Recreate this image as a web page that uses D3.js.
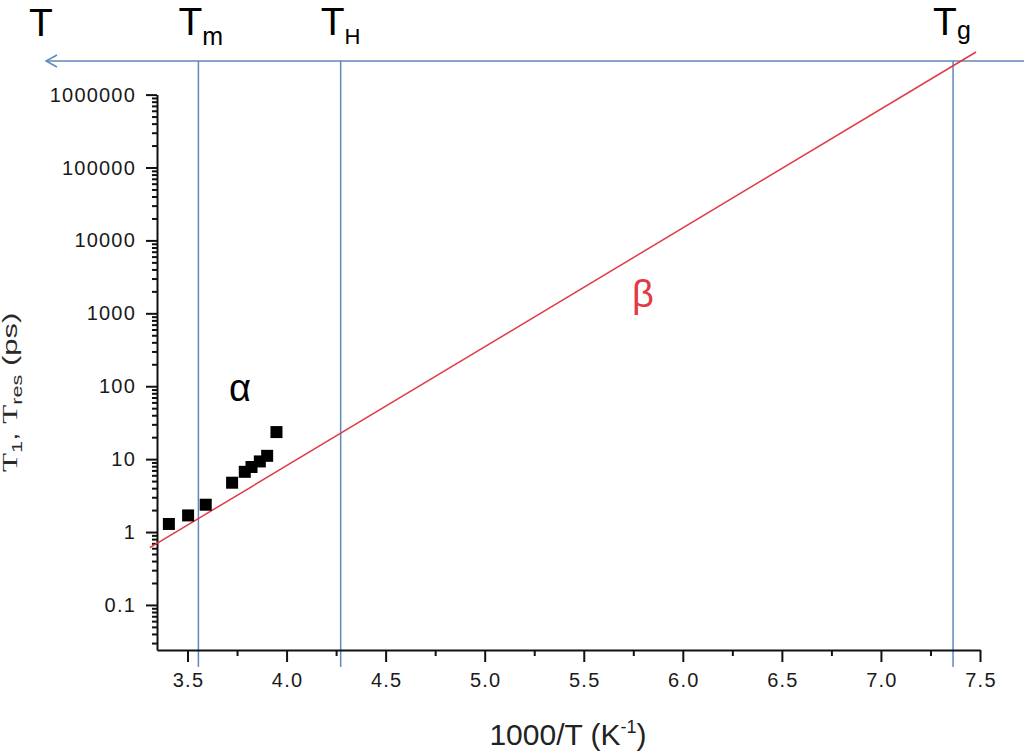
<!DOCTYPE html>
<html>
<head>
<meta charset="utf-8">
<script src="https://d3js.org/d3.v7.min.js"></script>
<style>
  body { margin: 0; background: #fff; }
  svg { display: block; }
  .lbl { font-family: "Liberation Sans", Arial, sans-serif; font-size: 20px; fill: #1a1a1a; }
</style>
</head>
<body>
<div id="chart"></div>
<script>
// measured points (1000/T, time in ps)
var alphaX = [3.406, 3.503, 3.592, 3.725, 3.789, 3.823, 3.865, 3.902, 3.949];
var alphaY = [1.29, 1.69, 2.37, 4.75, 6.7, 7.8, 9.3, 11.1, 23.5];

// beta line, its two ends
var betaX = [3.31, 7.48];
var betaY = [0.61, 3.84e6];

// characteristic temperatures on the 1000/T axis
var markNames = ["m", "H", "g"];
var markX = [3.555, 4.273, 7.364];

var xTickValues = [3.5, 4.0, 4.5, 5.0, 5.5, 6.0, 6.5, 7.0, 7.5];
var xTickLabels = ["3.5", "4.0", "4.5", "5.0", "5.5", "6.0", "6.5", "7.0", "7.5"];
var xMinorValues = [3.75, 4.25, 4.75, 5.25, 5.75, 6.25, 6.75, 7.25];
var yTickValues = [0.1, 1, 10, 100, 1000, 10000, 100000, 1000000];
var yTickLabels = ["0.1", "1", "10", "100", "1000", "10000", "100000", "1000000"];

var width = 1024, height = 751;
var plotLeft = 157, plotRight = 980, plotTop = 94.6, plotBottom = 650;
var lineBlue = "#6089bb", red = "#e23a45";
var sans = "'Liberation Sans', Arial, sans-serif";

var svg = d3.select("#chart").append("svg")
    .attr("width", width)
    .attr("height", height);

var x = d3.scaleLinear()
    .domain([3.346, 7.5])
    .range([plotLeft, plotRight]);
var y = d3.scaleLog()
    .domain([0.0241, 1e6])
    .range([plotBottom, plotTop]);

// log minor ticks 2..9 in each decade
var yMinor = [];
for (var e = -2; e < 6; e++) {
    for (var m = 2; m < 10; m++) {
        var v = m * Math.pow(10, e);
        if (v >= 0.0241 && v <= 1e6) yMinor.push(v);
    }
}

// T axis with arrow on top
var arrowY = 61;
svg.append("line")
    .attr("x1", 46).attr("x2", width)
    .attr("y1", arrowY).attr("y2", arrowY)
    .attr("stroke", lineBlue).attr("stroke-width", 1.5);
svg.append("path")
    .attr("d", "M57,55 L46,61 L57,67")
    .attr("fill", "none")
    .attr("stroke", lineBlue).attr("stroke-width", 1.5);

svg.append("text")
    .attr("x", 29).attr("y", 36)
    .attr("font-family", sans).attr("font-size", 39)
    .text("T");

svg.selectAll(".mark")
    .data(markX)
    .enter()
    .append("line")
    .attr("class", "mark")
    .attr("x1", function (d) { return x(d); })
    .attr("x2", function (d) { return x(d); })
    .attr("y1", arrowY)
    .attr("y2", 667)
    .attr("stroke", lineBlue).attr("stroke-width", 1.5);

var subSize = {"m": 25, "H": 22, "g": 25};
var subDy = {"m": 10, "H": 9, "g": 4};
var markLabels = svg.selectAll(".markLabel")
    .data(markX)
    .enter()
    .append("text")
    .attr("class", "markLabel")
    .attr("x", function (d) { return x(d) - 20; })
    .attr("y", 35)
    .attr("font-family", sans).attr("font-size", 39);
markLabels.append("tspan").text("T");
markLabels.append("tspan")
    .attr("dy", function (d, i) { return subDy[markNames[i]]; })
    .attr("font-size", function (d, i) { return subSize[markNames[i]]; })
    .text(function (d, i) { return markNames[i]; });

// axes: ticks from d3, labels drawn by hand so the font is ours
var xAxis = svg.append("g")
    .attr("transform", "translate(0," + plotBottom + ")")
    .call(d3.axisBottom(x)
        .tickValues(xTickValues)
        .tickFormat("")
        .tickSize(12)
        .tickSizeOuter(0));
xAxis.append("g")
    .call(d3.axisBottom(x).tickValues(xMinorValues).tickSize(6).tickFormat(""))
    .select(".domain").remove();

var yAxis = svg.append("g")
    .attr("transform", "translate(" + plotLeft + ",0)")
    .call(d3.axisLeft(y)
        .tickValues(yTickValues)
        .tickFormat("")
        .tickSize(11)
        .tickSizeOuter(0));
yAxis.append("g")
    .call(d3.axisLeft(y).tickValues(yMinor).tickSize(5).tickFormat(""))
    .select(".domain").remove();

svg.selectAll(".domain").attr("stroke", "#111").attr("stroke-width", 2);
svg.selectAll(".tick line").attr("stroke", "#111").attr("stroke-width", 2);

svg.selectAll(".xlbl")
    .data(xTickValues)
    .enter()
    .append("text")
    .attr("class", "lbl xlbl")
    .attr("x", function (d) { return x(d) + 1; })
    .attr("y", 687)
    .attr("text-anchor", "middle")
    .attr("letter-spacing", 1.2)
    .text(function (d, i) { return xTickLabels[i]; });

svg.selectAll(".ylbl")
    .data(yTickValues)
    .enter()
    .append("text")
    .attr("class", "lbl ylbl")
    .attr("x", 136)
    .attr("y", function (d) { return y(d) + 7; })
    .attr("text-anchor", "end")
    .attr("letter-spacing", 1.2)
    .text(function (d, i) { return yTickLabels[i]; });

// beta line
svg.append("line")
    .attr("x1", x(betaX[0])).attr("y1", y(betaY[0]))
    .attr("x2", x(betaX[1])).attr("y2", y(betaY[1]))
    .attr("stroke", red).attr("stroke-width", 1.5);

// alpha points
var sq = 12;
svg.selectAll(".pt")
    .data(alphaX)
    .enter()
    .append("rect")
    .attr("class", "pt")
    .attr("x", function (d) { return x(d) - sq / 2; })
    .attr("y", function (d, i) { return y(alphaY[i]) - sq / 2; })
    .attr("width", sq).attr("height", sq)
    .attr("fill", "#000");

svg.append("text")
    .attr("x", 240).attr("y", 401)
    .attr("text-anchor", "middle")
    .attr("font-family", sans).attr("font-size", 38)
    .text("α");
svg.append("text")
    .attr("x", 643).attr("y", 307)
    .attr("text-anchor", "middle")
    .attr("font-family", sans).attr("font-size", 38)
    .attr("fill", red)
    .text("β");

// axis titles
var xt = svg.append("text")
    .attr("x", 568).attr("y", 745)
    .attr("text-anchor", "middle")
    .attr("font-family", sans).attr("font-size", 30)
    .attr("fill", "#222");
xt.append("tspan").text("1000/T (K");
xt.append("tspan").attr("dy", -12).attr("font-size", 18).text("-1");
xt.append("tspan").attr("dy", 12).text(")");

var yt = svg.append("text")
    .attr("transform", "translate(17,472) rotate(-90) scale(1.55,1)")
    .attr("font-family", sans).attr("font-size", 20)
    .attr("fill", "#2a2a2a");
yt.append("tspan").attr("font-family", "'Liberation Serif', 'Times New Roman', serif").text("T");
yt.append("tspan").attr("dy", 5).attr("font-size", 14).text("1");
yt.append("tspan").attr("dy", -5).text(", ");
yt.append("tspan").attr("font-family", "'Liberation Serif', 'Times New Roman', serif").text("T");
yt.append("tspan").attr("dy", 5).attr("font-size", 14).text("res");
yt.append("tspan").attr("dy", -5).text(" (ps)");
</script>
</body>
</html>
